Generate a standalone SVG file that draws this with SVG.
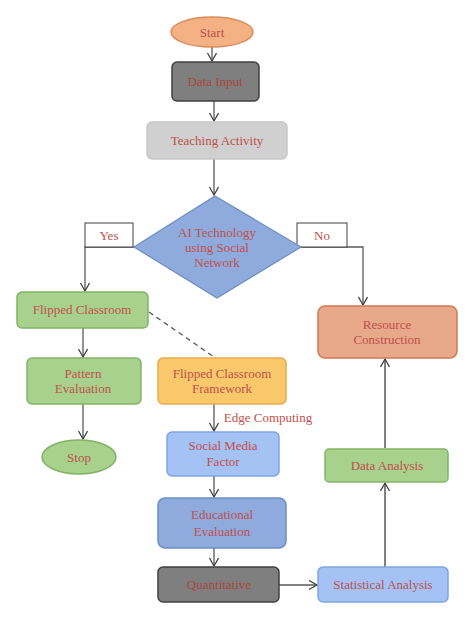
<svg xmlns="http://www.w3.org/2000/svg" width="474" height="620" viewBox="0 0 474 620">
<defs>
<marker id="arr" markerWidth="12" markerHeight="12" refX="9" refY="5" orient="auto" markerUnits="userSpaceOnUse">
<path d="M1,0.5 L9,5 L1,9.5" fill="none" stroke="#404040" stroke-width="1.3"/>
</marker>
</defs>
<style>
text{font-family:"Liberation Serif","Times New Roman",serif;font-size:13px;fill:#c0504d;text-anchor:middle;dominant-baseline:central}
text.dk{fill:#a8463e}
.con{fill:none;stroke:#595959;stroke-width:1.3}
.con.thick{stroke:#808080;stroke-width:2}
.lbl{fill:#fff;stroke:#404040;stroke-width:1}
.green{fill:#a9d18e;stroke:#82b366;stroke-width:1.5}
.gray{fill:#7f7f7f;stroke:#404040;stroke-width:1.5}
.lgray{fill:#d0d0d0;stroke:#c8c8c8;stroke-width:1.5}
.lblue{fill:#a4c2f4;stroke:#7ea6e0;stroke-width:1.5}
.blue{fill:#8faadc;stroke:#6c8ebf;stroke-width:1.5}
.orange{fill:#f4b183;stroke:#d98a5a;stroke-width:1.5}
.yellow{fill:#f9c86a;stroke:#e6ad4a;stroke-width:1.5}
.salmon{fill:#e8a88a;stroke:#d07a55;stroke-width:1.5}
.diam{fill:#8faadc;stroke:#6c8ebf;stroke-width:1.2}
</style>
<g id="connectors">
<line class="con" x1="212" y1="47" x2="212" y2="61" marker-end="url(#arr)"/>
<line class="con" x1="214" y1="101" x2="214" y2="121" marker-end="url(#arr)"/>
<line class="con" x1="214" y1="159" x2="214" y2="195" marker-end="url(#arr)"/>
<polyline class="con" points="134,247 85,247 85,291" marker-end="url(#arr)"/>
<polyline class="con" points="301,247 363,247 363,305" marker-end="url(#arr)"/>
<line class="con" x1="149" y1="312" x2="214" y2="357" stroke-dasharray="5,4"/>
<line class="con" x1="83" y1="328" x2="83" y2="357" marker-end="url(#arr)"/>
<line class="con" x1="83" y1="404" x2="83" y2="439" marker-end="url(#arr)"/>
<line class="con" x1="214" y1="404" x2="214" y2="431" marker-end="url(#arr)"/>
<line class="con" x1="214" y1="476" x2="214" y2="497" marker-end="url(#arr)"/>
<line class="con" x1="214" y1="548" x2="214" y2="566" marker-end="url(#arr)"/>
<line class="con" x1="279" y1="585" x2="317" y2="585" marker-end="url(#arr)"/>
<line class="con thick" x1="385" y1="567" x2="385" y2="483" marker-end="url(#arr)"/>
<line class="con thick" x1="385" y1="448" x2="385" y2="359" marker-end="url(#arr)"/>
<rect class="lbl" x="85" y="223" width="48" height="24"/>
<text x="109" y="235">Yes</text>
<rect class="lbl" x="297" y="223" width="50" height="24"/>
<text x="322" y="235">No</text>
<text x="268" y="417">Edge Computing</text>
</g>
<g id="start">
<ellipse class="orange" cx="212" cy="32" rx="41" ry="15"/>
<text x="212" y="32">Start</text>
</g>
<g id="data-input">
<rect class="gray" x="172" y="62" width="87" height="39" rx="5"/>
<text class="dk" x="215" y="81">Data Input</text>
</g>
<g id="teaching-activity">
<rect class="lgray" x="147" y="122" width="140" height="37" rx="5"/>
<text x="217" y="140">Teaching Activity</text>
</g>
<g id="decision">
<polygon class="diam" points="215,196 301,247 217,298 134,247"/>
<text x="217" y="232">AI Technology</text>
<text x="217" y="247">using Social</text>
<text x="217" y="262">Network</text>
</g>
<g id="flipped-classroom">
<rect class="green" x="17" y="292" width="131" height="36" rx="5"/>
<text x="82" y="309">Flipped Classroom</text>
</g>
<g id="resource-construction">
<rect class="salmon" x="318" y="306" width="139" height="52" rx="7"/>
<text x="387" y="324">Resource</text>
<text x="387" y="339">Construction</text>
</g>
<g id="pattern-evaluation">
<rect class="green" x="27" y="358" width="114" height="46" rx="5"/>
<text x="83" y="373">Pattern</text>
<text x="83" y="388">Evaluation</text>
</g>
<g id="stop">
<ellipse class="green" cx="79" cy="457" rx="37" ry="17"/>
<text x="79" y="457">Stop</text>
</g>
<g id="framework">
<rect class="yellow" x="158" y="358" width="128" height="46" rx="5"/>
<text x="222" y="373">Flipped Classroom</text>
<text x="222" y="388">Framework</text>
</g>
<g id="social-media-factor">
<rect class="lblue" x="167" y="432" width="112" height="44" rx="5"/>
<text x="223" y="445">Social Media</text>
<text x="223" y="461">Factor</text>
</g>
<g id="data-analysis">
<rect class="green" x="325" y="449" width="123" height="33" rx="4"/>
<text x="387" y="465">Data Analysis</text>
</g>
<g id="educational-evaluation">
<rect class="blue" x="158" y="498" width="128" height="50" rx="7"/>
<text x="222" y="514">Educational</text>
<text x="222" y="531">Evaluation</text>
</g>
<g id="quantitative">
<rect class="gray" x="158" y="567" width="121" height="35" rx="5"/>
<text class="dk" x="219" y="584">Quantitative</text>
</g>
<g id="statistical-analysis">
<rect class="lblue" x="318" y="567" width="130" height="35" rx="5"/>
<text x="383" y="584">Statistical Analysis</text>
</g>
</svg>
